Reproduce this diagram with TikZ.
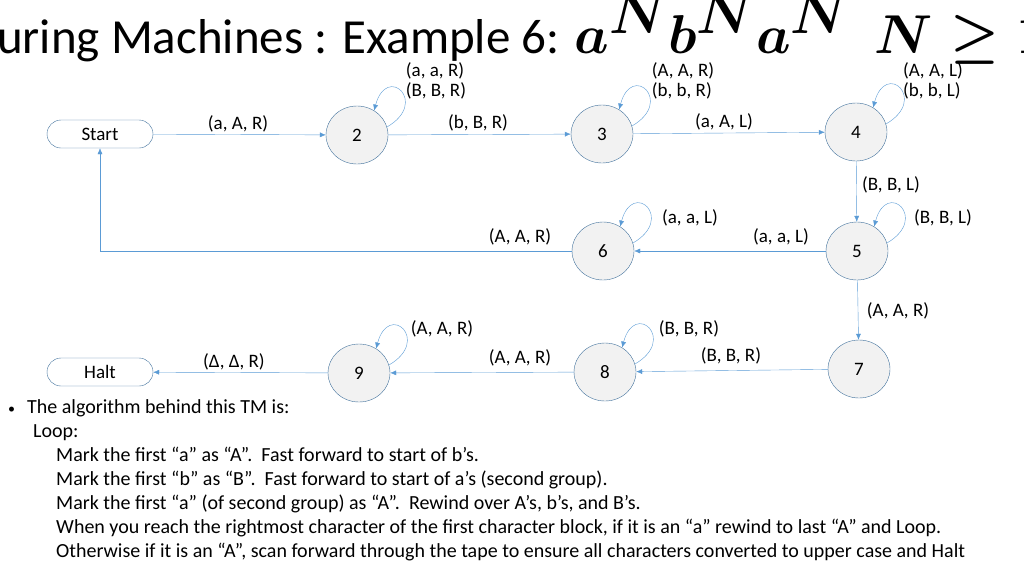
\documentclass[tikz,border=0pt]{standalone}
\usepackage{fontspec}
\setmainfont{Carlito}
\usepackage{amsmath}
\usepackage{graphicx}
\usetikzlibrary{arrows.meta,shapes.geometric}
\definecolor{ln}{HTML}{5B9BD5}
\definecolor{bd}{HTML}{41719C}
\definecolor{fl}{HTML}{F2F2F2}
\begin{document}
\begin{tikzpicture}[x=1pt,y=-1pt,
  st/.style={ellipse,draw=bd,fill=fl,minimum width=62pt,minimum height=58pt,inner sep=0pt,font=\fontsize{19}{22}\selectfont},
  term/.style={rounded corners=14pt,draw=bd,minimum width=106pt,minimum height=28pt,inner sep=0pt,font=\fontsize{19}{22}\selectfont},
  arr/.style={draw=ln,-{Latex[length=6pt,width=5pt]}},
  lbl/.style={font=\fontsize{19}{20}\selectfont,inner sep=0pt,align=left},
  lp/.style={arr,out=30,in=75,looseness=6}]
\useasboundingbox (0,0) rectangle (1024,581);
\node[anchor=center] (title) at (512,30) {\fontsize{49}{52}\selectfont Turing Machines : Example 6: \raisebox{0pt}{\scalebox{2.2}{\boldmath$a^N b^N a^N\ N \geq 1$}}};
\node[term] (start) at (100,134) {Start};
\node[term] (halt) at (100,372) {Halt};
\node[st] (n2) at (357,135) {2};
\node[st] (n3) at (602,134) {3};
\node[st] (n4) at (856,132) {4};
\node[st] (n5) at (857,251) {5};
\node[st] (n6) at (603,251) {6};
\node[st] (n7) at (859,369) {7};
\node[st] (n8) at (605,372) {8};
\node[st] (n9) at (359,373) {9};
\draw[arr] (start) -- (n2);
\draw[arr] (n2) -- (n3);
\draw[arr] (n3) -- (n4);
\draw[arr] (n4) -- (n5);
\draw[arr] (n5) -- (n6);
\draw[arr] (n5) -- (n7);
\draw[arr] (n7) -- (n8);
\draw[arr] (n8) -- (n9);
\draw[arr] (n9) -- (halt);
\draw[arr] (n6.west) -- (start.south |- n6.west) -- (start.south);
\foreach \n in {n2,n3,n4,n5,n6,n8,n9} \draw[lp] (\n.15) to (\n.55);
\node[lbl] at (238,124) {(a, A, R)};
\node[lbl] at (478,123) {(b, B, R)};
\node[lbl] at (724,122) {(a, A, L)};
\node[lbl] at (436,81) {(a, a, R)\\(B, B, R)};
\node[lbl] at (683,81) {(A, A, R)\\(b, b, R)};
\node[lbl] at (933,81) {(A, A, L)\\(b, b, L)};
\node[lbl] at (891,185) {(B, B, L)};
\node[lbl] at (943,218) {(B, B, L)};
\node[lbl] at (690,218) {(a, a, L)};
\node[lbl] at (781,237) {(a, a, L)};
\node[lbl] at (520,237) {(A, A, R)};
\node[lbl] at (898,311) {(A, A, R)};
\node[lbl] at (689,329) {(B, B, R)};
\node[lbl] at (731,356) {(B, B, R)};
\node[lbl] at (520,358) {(A, A, R)};
\node[lbl] at (442,329) {(A, A, R)};
\node[lbl] at (234,362) {(Δ, Δ, R)};
\node[anchor=north west,inner sep=0pt,align=left,font=\fontsize{20}{24}\selectfont] (txt) at (8,399) {%
{\fontsize{14}{14}\selectfont•}\hspace{12pt}The algorithm behind this TM is:\\
\hspace{25pt}Loop:\\
\hspace{48pt}Mark the first “a” as “A”.\ \ Fast forward to start of b’s.\\
\hspace{48pt}Mark the first “b” as “B”.\ \ Fast forward to start of a’s (second group).\\
\hspace{48pt}Mark the first “a” (of second group) as “A”.\ \ Rewind over A’s, b’s, and B’s.\\
\hspace{48pt}When you reach the rightmost character of the first character block, if it is an “a” rewind to last “A” and Loop.\\
\hspace{48pt}Otherwise if it is an “A”, scan forward through the tape to ensure all characters converted to upper case and Halt};
\end{tikzpicture}
\end{document}
